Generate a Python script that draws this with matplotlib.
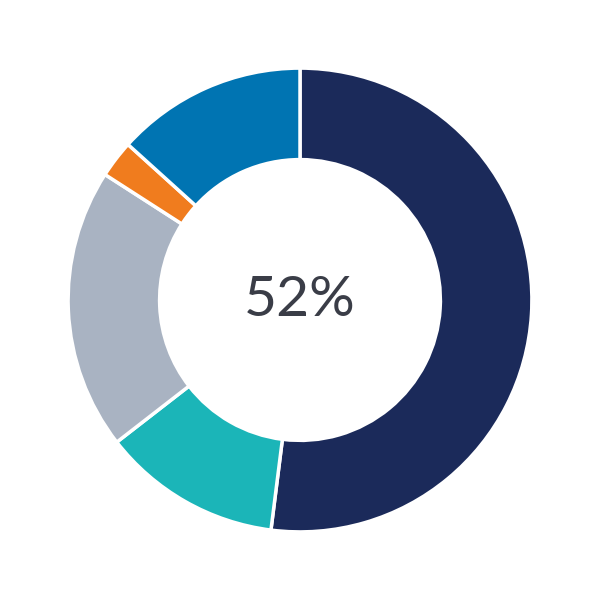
import matplotlib
matplotlib.use("Agg")
from matplotlib import pyplot as plt

plt.rcParams.update({
  "font.family": ['Lato', 'DejaVu Sans'],
})

labels = ["Navy", "Teal", "Gray", "Orange", "Blue"]
shares = [52.0, 12.5, 19.6, 2.6, 13.3]
colors = ["#1b2a5a", "#1bb5b8", "#a9b3c2", "#f07c1e", "#0074b2"]
center_label = "52%"

fig = plt.figure(figsize=(6, 6), dpi=100)
ax = fig.add_axes([0, 0, 1, 1])

ax.pie(shares, colors=colors, startangle=90, counterclock=False,
       radius=0.773,
       wedgeprops=dict(width=0.305, edgecolor='white', linewidth=2.5))

ax.text(0, 0, center_label, ha='center', va='center',
        fontsize=41, fontweight='normal', color='#3a3d47')

ax.set_xlim(-1, 1)
ax.set_ylim(-1, 1)
ax.set_aspect('equal')
ax.axis('off')

fig.savefig('out.png', dpi=100, facecolor='white')
